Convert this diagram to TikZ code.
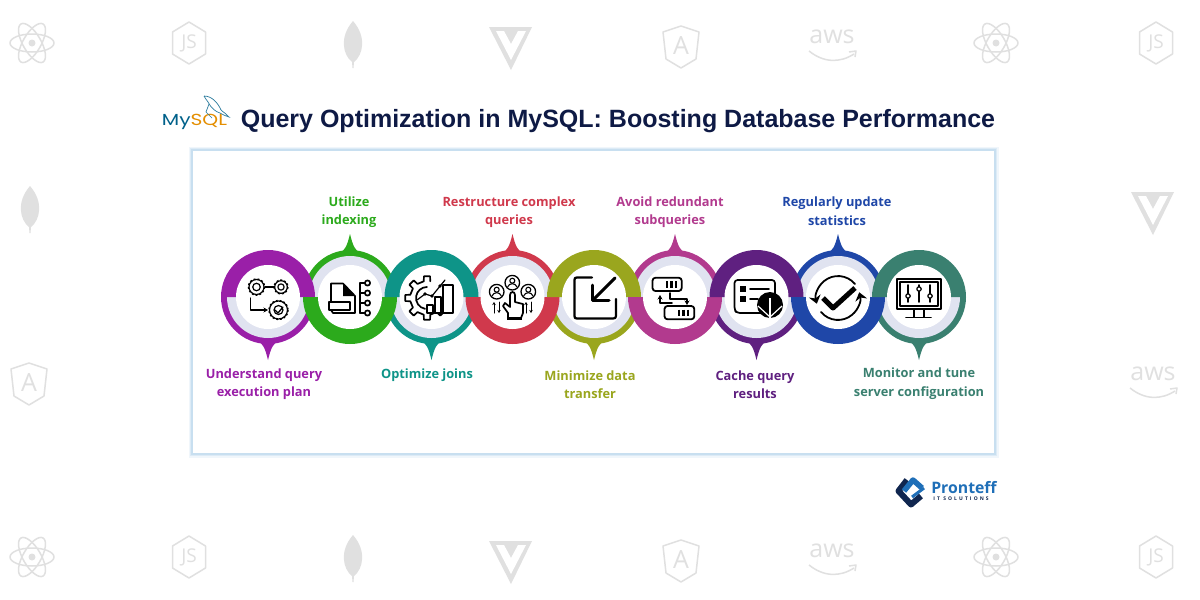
\documentclass[tikz,border=0pt]{standalone}
\usepackage{fontspec}
\usepackage{tikz}
\usetikzlibrary{arrows.meta}
\setmainfont{Open Sans}
\newfontfamily\titlefont{Liberation Sans}
\newfontfamily\logofont{Poppins}
\definecolor{wmgrey}{HTML}{E0E0E0}
\definecolor{lavender}{HTML}{E0E3F0}
\definecolor{purp}{HTML}{9A1FA8}
\definecolor{grn}{HTML}{2CAA1C}
\definecolor{teal1}{HTML}{0E9488}
\definecolor{red1}{HTML}{D0394C}
\definecolor{olive1}{HTML}{9AA61E}
\definecolor{mag}{HTML}{B23A8E}
\definecolor{dpurp}{HTML}{5F2080}
\definecolor{blue1}{HTML}{1F47A8}
\definecolor{sea}{HTML}{3A8070}
\definecolor{navy}{HTML}{0E1A45}
\definecolor{problue}{HTML}{1F6FB8}
\definecolor{pronavy}{HTML}{10264F}
\definecolor{dolph}{HTML}{2C7C9E}
\definecolor{mysqlblue}{HTML}{00618A}
\definecolor{mysqlorange}{HTML}{E48E00}
\definecolor{glowout}{HTML}{F0F6FB}
\definecolor{glowmid}{HTML}{DDEBF6}
\definecolor{glowin}{HTML}{C8DFF0}
\tikzstyle{wm} = [draw=wmgrey, line width=1.5pt, line join=round]
\tikzstyle{wmtext} = [text=wmgrey, inner sep=0pt]
\tikzstyle{disc} = [circle, fill=white, minimum size=64pt, inner sep=0pt]
\tikzstyle{lbl} = [align=center, font=\fontsize{12.8}{18.6}\selectfont\bfseries, inner sep=0pt]
\tikzstyle{ico} = [draw=black, line width=1.7pt, line join=round, line cap=round]
\tikzstyle{icoarrow} = [ico, -{Stealth[length=4.5pt,width=5pt]}]
\newcommand{\atomlogo}[2]{
	\draw[wm, rotate around={0:(#1,#2)}] (#1,#2) ellipse [x radius=22pt, y radius=9pt];
	\draw[wm, rotate around={60:(#1,#2)}] (#1,#2) ellipse [x radius=22pt, y radius=9pt];
	\draw[wm, rotate around={120:(#1,#2)}] (#1,#2) ellipse [x radius=22pt, y radius=9pt];
	\fill[wmgrey] (#1,#2) circle [radius=3.5pt];
}
\newcommand{\jslogo}[3]{
	\draw[wm] (#1,#2-21) -- (#1+16.5,#2-11) -- (#1+16.5,#2+11) -- (#1,#2+21) -- (#1-16.5,#2+11) -- (#1-16.5,#2-11) -- cycle;
	\node[wmtext, font=\fontsize{19}{19}\selectfont](#3) at (#1,#2){JS};
}
\newcommand{\leaflogo}[2]{
	\fill[wmgrey] (#1,#2-22) .. controls (#1-14,#2-6) and (#1-10,#2+12) .. (#1-1,#2+19) -- (#1-.5,#2+25) -- (#1+.5,#2+25) -- (#1+1,#2+19) .. controls (#1+10,#2+12) and (#1+14,#2-6) .. (#1,#2-22);
}
\newcommand{\vlogo}[2]{
	\fill[wmgrey] (#1-22,#2-16) -- (#1+21,#2-16) -- (#1,#2+27) -- cycle;
	\fill[white] (#1-15,#2-12) -- (#1-7,#2-12) -- (#1,#2+1) -- (#1+7,#2-12) -- (#1+15,#2-12) -- (#1,#2+17) -- cycle;
}
\newcommand{\alogo}[3]{
	\draw[wm] (#1,#2-17) -- (#1+18,#2-11) -- (#1+15,#2+16) -- (#1,#2+25) -- (#1-15,#2+16) -- (#1-18,#2-11) -- cycle;
	\node[wmtext, font=\fontsize{25}{25}\selectfont](#3) at (#1,#2+3){A};
}
\newcommand{\awslogo}[3]{
	\node[wmtext, font=\fontsize{25}{25}\selectfont](#3) at (#1,#2-6){aws};
	\draw[wm] (#1-23,#2+8) .. controls (#1-8,#2+20) and (#1+8,#2+20) .. (#1+22,#2+11);
	\draw[wm] (#1+17,#2+9) -- (#1+24,#2+8) -- (#1+23,#2+14);
}
\newcommand{\pointerdown}[2]{
	\fill[#2] (#1-11,341) .. controls (#1-5,343) and (#1-3,348) .. (#1,360) .. controls (#1+3,348) and (#1+5,343) .. (#1+11,341) -- cycle;
}
\newcommand{\pointerup}[2]{
	\fill[#2] (#1-11,253) .. controls (#1-5,251) and (#1-3,246) .. (#1,234) .. controls (#1+3,246) and (#1+5,251) .. (#1+11,253) -- cycle;
}
\newcommand{\halflow}[3]{\fill[#3] (#1+#2,297) arc [start angle=0, delta angle=180, radius=#2pt] -- cycle;}
\newcommand{\halfup}[3]{\fill[#3] (#1-#2,297) arc [start angle=180, delta angle=180, radius=#2pt] -- cycle;}
\newcommand{\gearicon}[3]{
	\draw[draw=black, line width=2.6pt, dash pattern=on 1.8pt off 1.8pt] (#1,#2) circle [radius=#3pt];
	\draw[ico, fill=white, line width=1.2pt] (#1,#2) circle [radius=#3pt];
	\draw[ico, line width=1.2pt] (#1,#2) circle [radius=#3*0.5pt];
}
\newcommand{\personicon}[2]{
	\draw[ico, fill=white, line width=1.3pt] (#1,#2) circle [radius=7.3pt];
	\draw[ico, line width=1.1pt] (#1,#2-2) circle [radius=2.5pt];
	\draw[ico, line width=1.1pt] (#1-4.5,#2+4) .. controls (#1-3,#2) and (#1+3,#2) .. (#1+4.5,#2+4);
}
\begin{document}
\begin{tikzpicture}[x=1pt, y=1pt, yscale=-1]
	\useasboundingbox (0,0) rectangle (1200,600);
	\fill[white] (0,0) rectangle (1200,600);
	% top row
	\atomlogo{32}{43}
	\jslogo{189}{43}{jsa}
	\leaflogo{353}{43}
	\vlogo{511}{43}
	\alogo{681}{43}{anga}
	\awslogo{832}{43}{awsa}
	\atomlogo{996}{43}
	\jslogo{1156}{43}{jsb}
	% side logos
	\leaflogo{30}{208}
	\vlogo{1153}{208}
	\alogo{29}{380}{angb}
	\awslogo{1153}{380}{awsb}
	% bottom row
	\atomlogo{32}{557}
	\jslogo{189}{557}{jsc}
	\leaflogo{353}{557}
	\vlogo{511}{557}
	\alogo{681}{557}{angc}
	\awslogo{832}{557}{awsc}
	\atomlogo{996}{557}
	\jslogo{1156}{557}{jsd}

	% mysql logo and title
	\node[inner sep=0pt, font=\logofont\fontsize{16}{16}\selectfont](mysql) at (194.5,122){\scalebox{1.26}[1]{\textcolor{mysqlblue}{My}\textcolor{mysqlorange}{SQL}}};
	\draw[draw=dolph, line width=.7pt] (204,96) .. controls (212,96) and (218,103) .. (221,110) .. controls (224,113) and (227,114) .. (229,117) .. controls (226,116) and (223,115) .. (220,113) .. controls (216,112) and (211,108) .. (208,102) .. controls (206,99) and (205,98) .. (204,96);
	\draw[draw=dolph, line width=.7pt] (209,104) -- (206,112) -- (212,118);
	\node[inner sep=0pt, text=navy, font=\titlefont\fontsize{25}{25}\selectfont\bfseries](title) at (618,121.5){Query Optimization in MySQL: Boosting Database Performance};

	% panel
	\draw[draw=glowout, line width=7pt] (192,150) rectangle (995,454);
	\draw[draw=glowmid, line width=4.5pt] (192,150) rectangle (995,454);
	\draw[draw=glowin, line width=2pt, fill=white] (192,150) rectangle (995,454);

	% thin halves
	\pointerdown{268}{purp} \halflow{268}{47}{purp} \halflow{268}{41}{lavender}
	\pointerup{350}{grn} \halfup{350}{47}{grn} \halfup{350}{41}{lavender}
	\pointerdown{431.5}{teal1} \halflow{431.5}{47}{teal1} \halflow{431.5}{41}{lavender}
	\pointerup{512.5}{red1} \halfup{512.5}{47}{red1} \halfup{512.5}{41}{lavender}
	\pointerdown{594}{olive1} \halflow{594}{47}{olive1} \halflow{594}{41}{lavender}
	\pointerup{675}{mag} \halfup{675}{47}{mag} \halfup{675}{41}{lavender}
	\pointerdown{756.5}{dpurp} \halflow{756.5}{47}{dpurp} \halflow{756.5}{41}{lavender}
	\pointerup{838}{blue1} \halfup{838}{47}{blue1} \halfup{838}{41}{lavender}
	\pointerdown{919}{sea} \halflow{919}{47}{sea} \halflow{919}{41}{lavender}

	% thick halves
	\halfup{268}{47}{purp}
	\halflow{350}{47}{grn}
	\halfup{431.5}{47}{teal1}
	\halflow{512.5}{47}{red1}
	\halfup{594}{47}{olive1}
	\halflow{675}{47}{mag}
	\halfup{756.5}{47}{dpurp}
	\halflow{838}{47}{blue1}
	\halfup{919}{47}{sea}

	\node[disc](disca) at (268,297){};
	\node[disc](discb) at (350,297){};
	\node[disc](discc) at (431.5,297){};
	\node[disc](discd) at (512.5,297){};
	\node[disc](disce) at (594,297){};
	\node[disc](discf) at (675,297){};
	\node[disc](discg) at (756.5,297){};
	\node[disc](disch) at (838,297){};
	\node[disc](disci) at (919,297){};

	% labels
	\node[lbl, text=purp](lbla) at (264,384){Understand query\\execution plan};
	\node[lbl, text=grn](lblb) at (349,212){Utilize\\indexing};
	\node[lbl, text=teal1](lblc) at (427,375.5){Optimize joins};
	\node[lbl, text=red1](lbld) at (509,212){Restructure complex\\queries};
	\node[lbl, text=olive1](lble) at (590,384.5){Minimize data\\transfer};
	\node[lbl, text=mag](lblf) at (670,212){Avoid redundant\\subqueries};
	\node[lbl, text=dpurp](lblg) at (755,384.5){Cache query\\results};
	\node[lbl, text=blue1](lblh) at (837,211){Regularly update\\statistics};
	\node[lbl, text=sea](lbli) at (919,383.5){Monitor and tune\\server configuration};

	% icon gears
	\gearicon{256.5}{287}{7.5}
	\gearicon{281}{287}{6.3}
	\gearicon{278.5}{310}{9}
	\draw[ico, line width=1.1pt] (265,287) -- (274,287);
	\draw[icoarrow, line width=1.1pt] (250.7,298) -- (250.7,310) -- (268,310);
	\draw[ico, line width=1.3pt] (275,310) -- (278,313) -- (283,307);

	% icon document
	\draw[ico] (331,302) -- (331,283.5) -- (343,283.5) -- (355,296) -- (355,313) -- (333,313) -- (331,310);
	\fill[black] (343,283.5) -- (343,296) -- (355,296) -- cycle;
	\draw[ico, fill=white] (329,302) rectangle (350,310);
	\draw[ico] (360,283) -- (360,313);
	\draw[ico] (360,283) -- (365,283);
	\draw[ico] (360,293) -- (365,293);
	\draw[ico] (360,303) -- (365,303);
	\draw[ico] (360,313) -- (365,313);
	\draw[ico, fill=white] (367.5,283) circle [radius=2.6pt];
	\draw[ico, fill=white] (367.5,293) circle [radius=2.6pt];
	\draw[ico, fill=white] (367.5,303) circle [radius=2.6pt];
	\draw[ico, fill=white] (367.5,313) circle [radius=2.6pt];

	% icon gear with bars
	\begin{scope}[shift={(427,298)}]
		\draw[ico, fill=white] (34:17) -- (37:22) -- (53:22) -- (56:17) -- (79:17) -- (82:22) -- (98:22) -- (101:17) -- (124:17) -- (127:22) -- (143:22) -- (146:17) -- (169:17) -- (172:22) -- (188:22) -- (191:17) -- (214:17) -- (217:22) -- (233:22) -- (236:17) -- (259:17) -- (262:22) -- (278:22) -- (281:17);
		\draw[ico] (100:11) arc [start angle=100, end angle=270, radius=11pt];
	\end{scope}
	\draw[ico, fill=white] (427,305) rectangle (433,313);
	\draw[ico, fill=white] (435,297) rectangle (441,313);
	\draw[ico, fill=white] (443,285) rectangle (453,313);
	\draw[ico, line width=1.2pt] (417,300) -- (425,294) -- (432,296) -- (445,280);
	\fill[black] (425,294) circle [radius=1.8pt];
	\fill[black] (432,296) circle [radius=1.8pt];
	\fill[black] (440,286) circle [radius=1.8pt];

	% icon hand with people
	\personicon{496.7}{291.7}
	\personicon{528.3}{291.7}
	\personicon{512.3}{282.7}
	\draw[ico, line width=1pt, {Stealth[length=3pt,width=3.5pt]}-] (494,302) -- (494,313);
	\draw[ico, line width=1pt, -{Stealth[length=3pt,width=3.5pt]}] (499,302) -- (499,313);
	\draw[ico, line width=1pt, {Stealth[length=3pt,width=3.5pt]}-] (526,302) -- (526,313);
	\draw[ico, line width=1pt, -{Stealth[length=3pt,width=3.5pt]}] (531,302) -- (531,313);
	\draw[ico, fill=white] (508,318) -- (508,313) -- (503,306) -- (505,303) -- (510,307) -- (510,295) .. controls (510,291) and (515,291) .. (515,295) -- (515,302) -- (523,304) -- (523,313) -- (521,318) -- cycle;
	\draw[ico, line width=2.8pt, line cap=butt] (507,318.5) -- (522,318.5);

	% icon minimize
	\draw[ico, line width=2.2pt] (592,277.5) -- (577,277.5) .. controls (575,277.5) and (574.5,278) .. (574.5,280) -- (574.5,316) .. controls (574.5,318) and (575,318.5) .. (577,318.5) -- (613,318.5) .. controls (615,318.5) and (616,318) .. (616,316) -- (616,299);
	\draw[ico, line width=3pt] (615,278) -- (593,300);
	\draw[ico, line width=3pt] (592,285) -- (592,300) -- (609,300);

	% icon servers
	\draw[ico, line width=1.8pt, rounded corners=3pt] (652.5,277.7) rectangle (681.7,291);
	\draw[ico, line width=1.8pt, rounded corners=3pt] (664.5,306) rectangle (694.3,319.3);
	\draw[ico, line width=2.4pt, line cap=butt] (667,281) -- (667,287.5);
	\draw[ico, line width=2.4pt, line cap=butt] (671.5,281) -- (671.5,287.5);
	\draw[ico, line width=2.4pt, line cap=butt] (676,281) -- (676,287.5);
	\draw[ico, line width=2.4pt, line cap=butt] (679,309.5) -- (679,316);
	\draw[ico, line width=2.4pt, line cap=butt] (683.5,309.5) -- (683.5,316);
	\draw[ico, line width=2.4pt, line cap=butt] (688,309.5) -- (688,316);
	\draw[icoarrow, line width=1.6pt] (670,293) -- (670,299) -- (687,299) -- (687,305);
	\draw[icoarrow, line width=1.6pt] (672,303) -- (660,303) -- (660,295);

	% icon cache card
	\draw[ico, rounded corners=3pt] (765,313) -- (737,313) -- (734.5,310) -- (734.5,280) -- (775,280) -- (775,295);
	\fill[black] (739.5,286) rectangle (746,292);
	\fill[black] (739.5,296) rectangle (746,302);
	\draw[ico] (750,289) -- (769,289);
	\draw[ico] (750,299) -- (758,299);
	\fill[black] (770,305) circle [radius=13pt];
	\draw[draw=white, line width=1.2pt] (770,298) -- (770,318);
	\draw[draw=white, line width=1.2pt] (758,306) -- (770,317) -- (782,306);

	% icon refresh check
	\draw[ico, line width=1.8pt, -{Stealth[length=8pt,width=12pt]}] (854.9,283.9) arc [start angle=320, end angle=165, radius=22pt];
	\draw[ico, line width=1.8pt, -{Stealth[length=8pt,width=12pt]}] (821.1,312.1) arc [start angle=140, end angle=-15, radius=22pt];
	\draw[ico, line width=5pt, line cap=butt] (823,298) -- (833,308) -- (855,288);

	% icon monitor
	\draw[ico] (897,279) rectangle (941,309);
	\draw[ico, line width=1.1pt] (900,282) rectangle (938,306);
	\draw[ico] (914,309) -- (914,317);
	\draw[ico] (924,309) -- (924,317);
	\draw[ico] (906,317.5) -- (931,317.5);
	\draw[ico] (908,285) -- (908,302);
	\draw[ico] (919,285) -- (919,302);
	\draw[ico] (930,285) -- (930,302);
	\draw[ico, fill=white, line width=1.2pt] (908,296) circle [radius=2.2pt];
	\draw[ico, fill=white, line width=1.2pt] (919,289) circle [radius=2.2pt];
	\draw[ico, fill=white, line width=1.2pt] (930,296) circle [radius=2.2pt];

	% pronteff logo
	\draw[draw=pronavy, line width=6pt, line join=round] (907,480) -- (898.5,491) -- (911,504.5) -- (921,496);
	\draw[draw=problue, line width=5.5pt, line join=round] (904,491) -- (913,480) -- (922,488);
	\draw[draw=problue, line width=3pt] (912,497) -- (924,488);
	\node[inner sep=0pt, text=problue, font=\fontsize{15.8}{15.8}\selectfont\bfseries](pronteff) at (964,488){Pronteff};
	\node[inner sep=0pt, text=pronavy, font=\fontsize{5}{5}\selectfont\bfseries\addfontfeature{LetterSpace=42}](itsol) at (961,498.5){IT SOLUTIONS};
\end{tikzpicture}
\end{document}
